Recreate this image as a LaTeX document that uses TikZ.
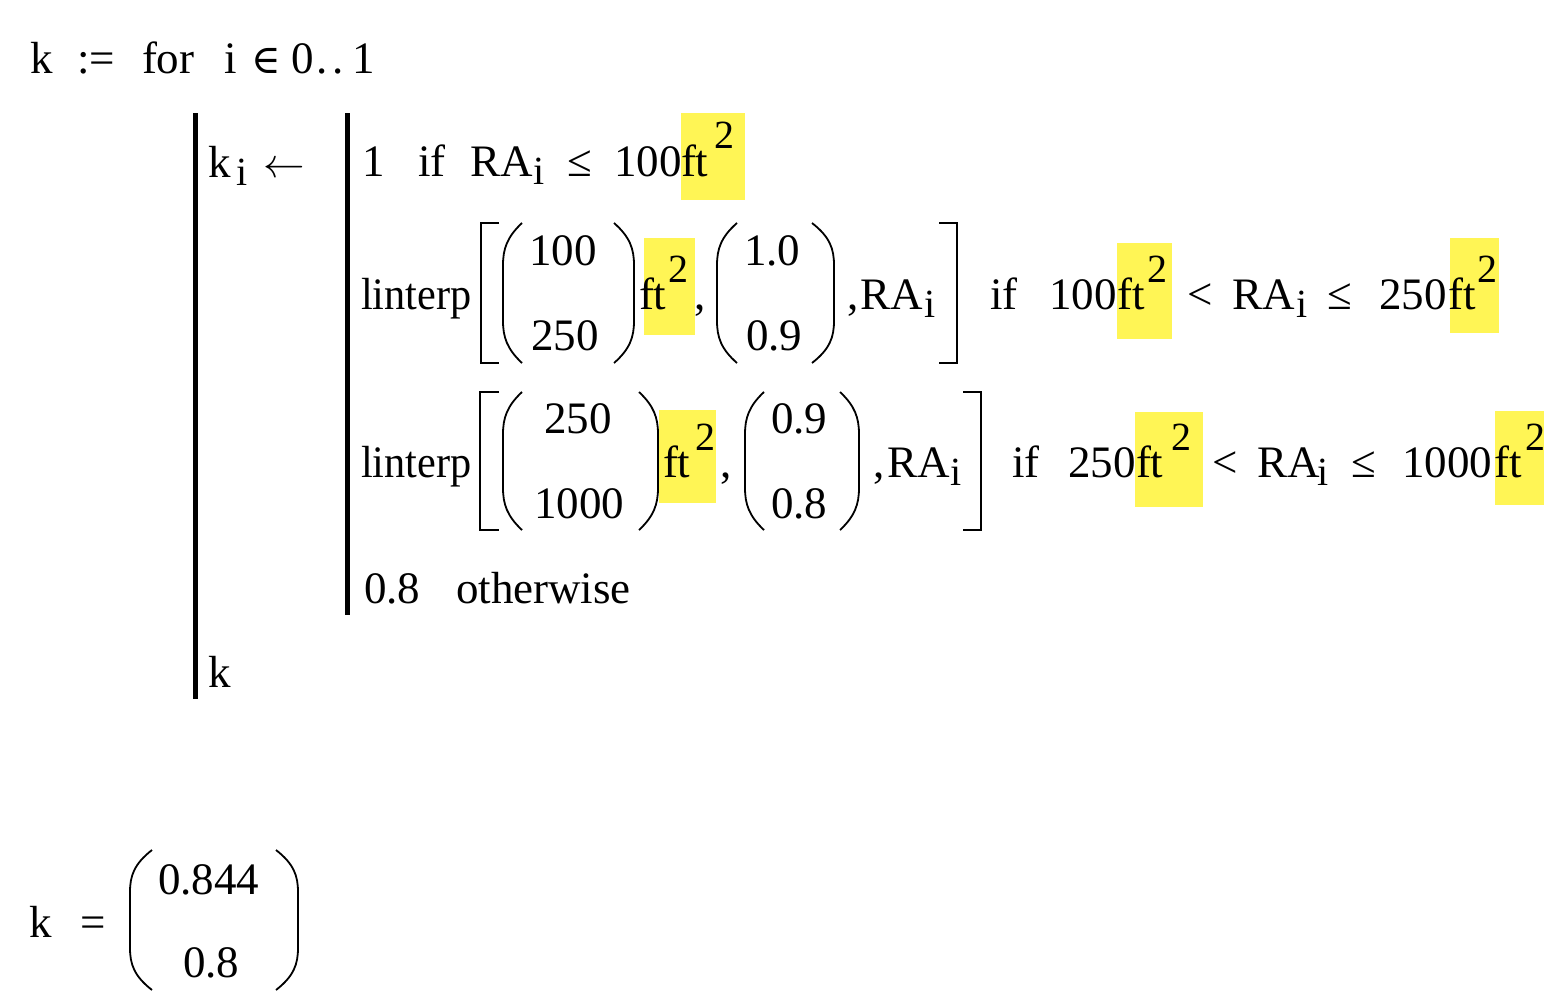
\documentclass[tikz,border=0pt]{standalone}
\usepackage{fontspec}
\usepackage{graphicx}
\setmainfont{Liberation Serif}
\newfontfamily\symfont{DejaVu Serif}
\definecolor{hlyellow}{RGB}{255,245,85}
\newcommand\mainsz{\fontsize{22.5pt}{27pt}\selectfont}
\newcommand\subsz{\fontsize{20pt}{24pt}\selectfont}
\newcommand\supsz{\fontsize{20pt}{24pt}\selectfont}
\newcommand\mylpar[4]{\draw[paren] (#2,#3) .. controls ({#1+4},{#3+14}) and (#1,{#3+26}) .. (#1,{#3+42}) -- (#1,{#4-42}) .. controls (#1,{#4-26}) and ({#1+4},{#4-14}) .. (#2,#4);}
\newcommand\myrpar[4]{\draw[paren] (#1,#3) .. controls ({#2-4},{#3+14}) and (#2,{#3+26}) .. (#2,{#3+42}) -- (#2,{#4-42}) .. controls (#2,{#4-26}) and ({#2-4},{#4-14}) .. (#1,#4);}
\newcommand\mylbrk[4]{\draw[brk] (#2,#3) -- (#1,#3) -- (#1,#4) -- (#2,#4);}
\newcommand\myrbrk[4]{\draw[brk] (#1,#3) -- (#2,#3) -- (#2,#4) -- (#1,#4);}
\tikzset{
  txt/.style={anchor=base west, inner sep=0pt, outer sep=0pt, font=\mainsz},
  sb/.style={anchor=base west, inner sep=0pt, outer sep=0pt, font=\subsz},
  sp/.style={anchor=base west, inner sep=0pt, outer sep=0pt, font=\supsz},
  bar/.style={line width=2.5pt},
  paren/.style={line width=0.9pt},
  brk/.style={line width=1.25pt},
  hl/.style={fill=hlyellow}
}
\begin{document}
\begin{tikzpicture}[x=0.5pt,y=-0.5pt]
\fill[white] (0,0) rectangle (1563,1007);
\useasboundingbox (0,0) rectangle (1563,1007);
% highlights
\fill[hl] (681,113) rectangle (745,200);
\fill[hl] (644,238) rectangle (695,335);
\fill[hl] (1117,243) rectangle (1172,339);
\fill[hl] (1450,238) rectangle (1499,333);
\fill[hl] (659,410) rectangle (716,503);
\fill[hl] (1135,412) rectangle (1203,507);
\fill[hl] (1495,411) rectangle (1544,505);
% top line
\node[txt] (k0) at (31,73) {k};
\node[txt] (def) at (77,73) {:=};
\node[txt] (for) at (142,73) {for};
\node[txt] (ivar) at (224,73) {i};
\node[anchor=base west, inner sep=0pt, font={\symfont\fontsize{20pt}{24pt}\selectfont}] (in) at (251,73) {∈};
\node[txt] (r0) at (291,73) {0};
\node[txt] (rdots) at (316,73) {.\kern2.5pt.};
\node[txt] (r1) at (352,73) {1};
% bars
\draw[bar] (195,113) -- (195,699);
\draw[bar] (347,113) -- (347,615);
% k_i <-
\node[txt] (ki) at (208,177) {k};
\node[sb] (kisub) at (236,185) {i};
\node[txt] (arrow) at (263,177) {$\leftarrow$};
% row 1
\node[txt] (a1) at (362,176) {1};
\node[txt] (a1if) at (418,176) {if};
\node[txt] (a1ra) at (470,176) {RA};
\node[sb] (a1i) at (533,184) {i};
\node[txt] (a1le) at (567,176) {≤};
\node[txt] (a1n) at (614,176) {100};
\node[txt] (a1ft) at (681,176) {ft};
\node[sp] (a1sq) at (714,148) {2};
% row 2
\node[txt] (b2lin) at (361,309) {\scalebox{0.94}[1]{linterp}};
\mylbrk{481}{499}{223}{363}
\mylpar{503}{522}{223}{363}
\node[txt] (b2m1) at (529,265) {100};
\node[txt] (b2m2) at (531,350) {250};
\myrpar{614}{634}{223}{363}
\node[txt] (b2ft) at (639,309) {ft};
\node[sp] (b2sq) at (668,282) {2};
\node[txt] (b2c1) at (694,309) {,};
\mylpar{717}{737}{223}{363}
\node[txt] (b2v1) at (744,265) {1.0};
\node[txt] (b2v2) at (746,350) {0.9};
\myrpar{812}{834}{223}{363}
\node[txt] (b2c2) at (847,309) {,};
\node[txt] (b2ra) at (860,309) {RA};
\node[sb] (b2i) at (924,317) {i};
\myrbrk{939}{957}{223}{363}
\node[txt] (b2if) at (990,309) {if};
\node[txt] (b2n1) at (1049,309) {100};
\node[txt] (b2ft1) at (1117,309) {ft};
\node[sp] (b2sq1) at (1147,282) {2};
\node[txt] (b2lt) at (1187,309) {<};
\node[txt] (b2ra2) at (1232,309) {RA};
\node[sb] (b2i2) at (1296,317) {i};
\node[txt] (b2le) at (1327,309) {≤};
\node[txt] (b2n2) at (1379,309) {250};
\node[txt] (b2ft2) at (1448,309) {ft};
\node[sp] (b2sq2) at (1477,282) {2};
% row 3
\node[txt] (c3lin) at (361,477) {\scalebox{0.94}[1]{linterp}};
\mylbrk{480}{499}{392}{530}
\mylpar{503}{522}{392}{530}
\node[txt] (c3m1) at (544,433) {250};
\node[txt] (c3m2) at (534,518) {1000};
\myrpar{639}{658}{392}{530}
\node[txt] (c3ft) at (663,477) {ft};
\node[sp] (c3sq) at (695,450) {2};
\node[txt] (c3c1) at (720,477) {,};
\mylpar{745}{764}{392}{530}
\node[txt] (c3v1) at (771,433) {0.9};
\node[txt] (c3v2) at (771,518) {0.8};
\myrpar{840}{859}{392}{530}
\node[txt] (c3c2) at (873,477) {,};
\node[txt] (c3ra) at (887,477) {RA};
\node[sb] (c3i) at (950,485) {i};
\myrbrk{963}{981}{392}{530}
\node[txt] (c3if) at (1012,477) {if};
\node[txt] (c3n1) at (1068,477) {250};
\node[txt] (c3ft1) at (1136,477) {ft};
\node[sp] (c3sq1) at (1171,450) {2};
\node[txt] (c3lt) at (1212,477) {<};
\node[txt] (c3ra2) at (1257,477) {RA};
\node[sb] (c3i2) at (1317,485) {i};
\node[txt] (c3le) at (1351,477) {≤};
\node[txt] (c3n2) at (1402,477) {1000};
\node[txt] (c3ft2) at (1494,477) {ft};
\node[sp] (c3sq2) at (1525,450) {2};
% row 4
\node[txt] (d4v) at (364,603) {0.8};
\node[txt] (d4o) at (456,603) {otherwise};
% result k
\node[txt] (kres) at (208,687) {k};
% bottom
\node[txt] (kb) at (29,937) {k};
\node[txt] (eq) at (80,937) {=};
\mylpar{130}{152}{850}{990}
\node[txt] (e1) at (158,894) {0.844};
\node[txt] (e2) at (183,977) {0.8};
\myrpar{276}{298}{850}{990}
\end{tikzpicture}
\end{document}
